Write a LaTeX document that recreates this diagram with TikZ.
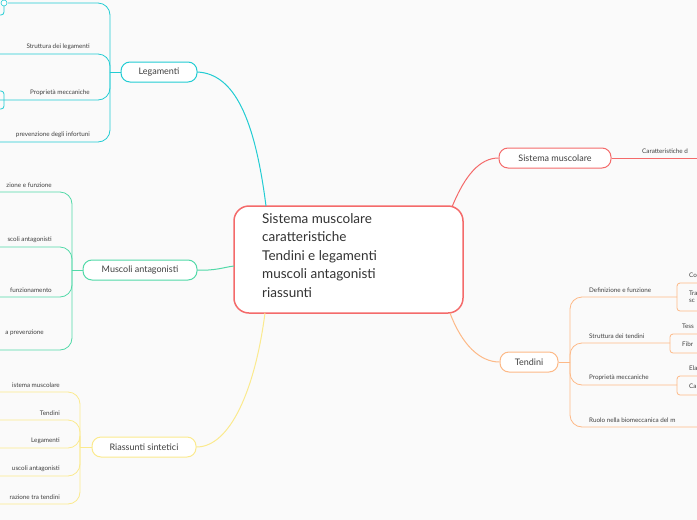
\documentclass[tikz,border=0pt]{standalone}
\usepackage{fontspec}
\setmainfont{Lato}
\begin{document}
\begin{tikzpicture}[x=1pt,y=-1pt,
  topic/.style={draw,line width=1pt,rounded corners=9pt,fill=white,minimum height=20pt,inner xsep=8pt,font=\fontsize{9}{10}\selectfont,text=black!75},
  lab/.style={font=\fontsize{6.3}{7.2}\selectfont,text=black!75,inner sep=1pt},
  br/.style={line width=0.8pt,rounded corners=12pt}]
\definecolor{cred}{HTML}{F46A6A}
\definecolor{cteal}{HTML}{22CCD3}
\definecolor{cgreen}{HTML}{52D9A8}
\definecolor{cyel}{HTML}{FBEA8E}
\definecolor{corg}{HTML}{FDB987}
\useasboundingbox (0,0) rectangle (697,520);
\clip (0,0) rectangle (697,520);
\fill[white!98!black] (0,0) rectangle (697,520);
% central
\node[draw=cred,line width=1.5pt,rounded corners=15pt,fill=white,minimum width=229pt,minimum height=107pt] (c) at (348.5,259.5) {};
\node[anchor=north west,align=left,font=\fontsize{13.5}{18.5}\selectfont,text=black!80,inner sep=0] (ct) at (262,213) {Sistema muscolare\\caratteristiche\\Tendini e legamenti\\muscoli antagonisti\\riassunti};
% Sistema muscolare
\node[topic,draw=cred,minimum width=112pt] (sm) at (555,158) {Sistema muscolare};
\draw[cred,line width=1pt] (452,207) .. controls (465,175) and (480,158) .. (sm.west);
\coordinate (sme) at (700,158);
\draw[cred,line width=0.8pt] (sm.east) -- (sme);
\node[lab,anchor=south west] (sml) at (641,155) {Caratteristiche d};
% Tendini
\node[topic,draw=corg,minimum width=58pt] (te) at (529,362) {Tendini};
\draw[corg,line width=1pt] (450,313) .. controls (462,345) and (480,362) .. (te.west);
\draw[corg,line width=0.8pt] (te.east) -- (570,362);
\foreach \y/\e in {297/677,343/670,385/677,427/700}{\draw[corg,br] (570,362) -- (570,\y) -- (\e,\y);}
\node[lab,anchor=south west] (t1) at (588,294) {Definizione e funzione};
\node[lab,anchor=south west] (t2) at (588,340) {Struttura dei tendini};
\node[lab,anchor=south west] (t3) at (588,382) {Proprietà meccaniche};
\node[lab,anchor=south west] (t4) at (588,424) {Ruolo nella biomeccanica del m};
\draw[corg,line width=0.8pt,rounded corners=3pt] (705,283) -- (677,283) -- (677,311) -- (705,311);
\draw[corg,line width=0.8pt,rounded corners=3pt] (705,334) -- (670,334) -- (670,353) -- (705,353);
\draw[corg,line width=0.8pt,rounded corners=3pt] (705,376) -- (677,376) -- (677,395) -- (705,395);
\node[lab,anchor=west] (t1a) at (688,275) {Co};
\node[lab,anchor=west,align=left] (t1b) at (688,297) {Tra\\sc};
\node[lab,anchor=west] (t2a) at (681,326) {Tess};
\node[lab,anchor=west] (t2b) at (681,344) {Fibr};
\node[lab,anchor=west] (t3a) at (688,368) {Ela};
\node[lab,anchor=west] (t3b) at (688,386) {Ca};
% Legamenti
\node[topic,draw=cteal,minimum width=76pt] (le) at (159,72) {Legamenti};
\draw[cteal,line width=1pt] (le.east) .. controls (235,74) and (255,120) .. (266,206);
\draw[cteal,line width=0.8pt] (le.west) -- (110,72);
\foreach \y/\e in {3/8,54/-5,100/-5,142/-5}{\draw[cteal,br] (110,72) -- (110,\y) -- (\e,\y);}
\node[lab,anchor=south east] (l1) at (91,51) {Struttura dei legamenti};
\node[lab,anchor=south east] (l2) at (91,97) {Proprietà meccaniche};
\node[lab,anchor=south east] (l3) at (91,139) {prevenzione degli infortuni};
\draw[cteal,line width=0.8pt,rounded corners=3pt] (-5,91) -- (4,91) -- (4,109) -- (-5,109);
\draw[cteal,line width=0.8pt,rounded corners=3pt] (-5,-3) -- (4,-3) -- (4,15) -- (-5,15);
\node[circle,draw=cteal,fill=white,line width=0.6pt,inner sep=0,minimum size=6pt] (lc) at (4,3) {};
% Muscoli antagonisti
\node[topic,draw=cgreen,minimum width=114pt] (ma) at (140,270) {Muscoli antagonisti};
\draw[cgreen,line width=1pt] (ma.east) .. controls (215,271) and (225,267) .. (234,266);
\draw[cgreen,line width=0.8pt] (ma.west) -- (72,270);
\foreach \y in {192,247,297,350}{\draw[cgreen,br] (72,270) -- (72,\y) -- (-5,\y);}
\node[lab,anchor=south east] (m1) at (53,189) {zione e funzione};
\node[lab,anchor=south east] (m2) at (53,244) {scoli antagonisti};
\node[lab,anchor=south east] (m3) at (53,294) {funzionamento};
\node[lab,anchor=south east] (m4) at (45,337) {a prevenzione};
% Riassunti
\node[topic,draw=cyel,minimum width=104pt] (ri) at (144,447) {Riassunti sintetici};
\draw[cyel,line width=1pt] (ri.east) .. controls (230,447) and (255,390) .. (265,313);
\draw[cyel,line width=0.8pt] (ri.west) -- (80,447);
\foreach \y in {392,420,448,476,504}{\draw[cyel,br] (80,447) -- (80,\y) -- (-5,\y);}
\node[lab,anchor=south east] (r1) at (61,389) {istema muscolare};
\node[lab,anchor=south east] (r2) at (61,417) {Tendini};
\node[lab,anchor=south east] (r3) at (61,445) {Legamenti};
\node[lab,anchor=south east] (r4) at (61,473) {uscoli antagonisti};
\node[lab,anchor=south east] (r5) at (61,501) {razione tra tendini};
\end{tikzpicture}
\end{document}
